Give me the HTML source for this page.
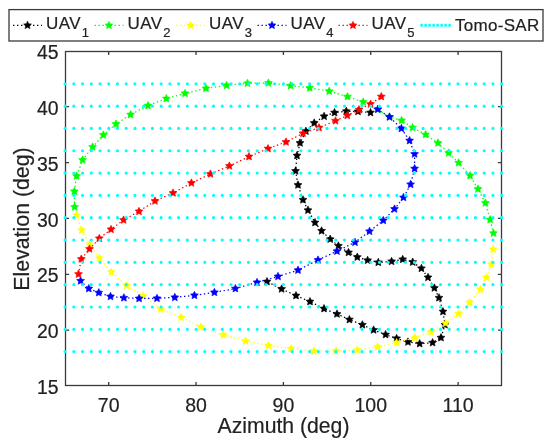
<!DOCTYPE html><html><head><meta charset="utf-8"><style>html,body{margin:0;padding:0;background:#fff}svg{display:block}text{font-family:"Liberation Sans",Arial,Helvetica,sans-serif;fill:#222;stroke:#222;stroke-width:0.2px}</style></head><body>
<svg width="550" height="443" viewBox="0 0 550 443">
<rect width="550" height="443" fill="#fff"/>
<rect x="65.5" y="51.5" width="436.0" height="334.0" fill="#fff" stroke="#3a3a3a" stroke-width="1.3"/>
<path d="M108.70,385.5V381.9M108.70,51.5V55.1M196.05,385.5V381.9M196.05,51.5V55.1M283.40,385.5V381.9M283.40,51.5V55.1M370.75,385.5V381.9M370.75,51.5V55.1M458.10,385.5V381.9M458.10,51.5V55.1M65.5,330.20H69.1M501.5,330.20H497.9M65.5,274.32H69.1M501.5,274.32H497.9M65.5,218.45H69.1M501.5,218.45H497.9M65.5,162.57H69.1M501.5,162.57H497.9M65.5,106.70H69.1M501.5,106.70H497.9" stroke="#3a3a3a" stroke-width="1.3" fill="none"/>
<path d="M370.5,112.6L358,111.5L346.3,111.2L334.5,112.6L324.1,116.3L314.2,123L305.9,131.2L300,143L297,155.6L295.6,171L298,185L303,199.8L308,210.2L315,222.6L321.6,230.9L330.2,239.2L338.4,245.9L348.5,252.5L357.3,257.1L367.6,260.3L378.3,262.4L391.6,261.4L402.7,259.4L412.7,262.1L421.4,268.4L428,277.4L434.4,288L439,297.8L443,311.6L445,324.8L441,337.7L432.6,342.7L419.7,343.7L408,342L396.6,338.4L385.6,334.6L373.6,330L362.4,324.8L349.4,319.6L337,314L324,308.6L310,301.6L296,295.6L281.6,289L267,281.6" fill="none" stroke="#000" stroke-width="1.25" stroke-dasharray="1.4 2.6"/>
<path d="M370.50,108.45L371.70,110.95L374.45,111.32L372.43,113.23L372.94,115.96L370.50,114.63L368.06,115.96L368.57,113.23L366.55,111.32L369.30,110.95ZM358.00,107.35L359.20,109.85L361.95,110.22L359.93,112.13L360.44,114.86L358.00,113.53L355.56,114.86L356.07,112.13L354.05,110.22L356.80,109.85ZM346.30,107.05L347.50,109.55L350.25,109.92L348.23,111.83L348.74,114.56L346.30,113.23L343.86,114.56L344.37,111.83L342.35,109.92L345.10,109.55ZM334.50,108.45L335.70,110.95L338.45,111.32L336.43,113.23L336.94,115.96L334.50,114.63L332.06,115.96L332.57,113.23L330.55,111.32L333.30,110.95ZM324.10,112.15L325.30,114.65L328.05,115.02L326.03,116.93L326.54,119.66L324.10,118.33L321.66,119.66L322.17,116.93L320.15,115.02L322.90,114.65ZM314.20,118.85L315.40,121.35L318.15,121.72L316.13,123.63L316.64,126.36L314.20,125.03L311.76,126.36L312.27,123.63L310.25,121.72L313.00,121.35ZM305.90,127.05L307.10,129.55L309.85,129.92L307.83,131.83L308.34,134.56L305.90,133.23L303.46,134.56L303.97,131.83L301.95,129.92L304.70,129.55ZM300.00,138.85L301.20,141.35L303.95,141.72L301.93,143.63L302.44,146.36L300.00,145.03L297.56,146.36L298.07,143.63L296.05,141.72L298.80,141.35ZM297.00,151.45L298.20,153.95L300.95,154.32L298.93,156.23L299.44,158.96L297.00,157.63L294.56,158.96L295.07,156.23L293.05,154.32L295.80,153.95ZM295.60,166.85L296.80,169.35L299.55,169.72L297.53,171.63L298.04,174.36L295.60,173.03L293.16,174.36L293.67,171.63L291.65,169.72L294.40,169.35ZM298.00,180.85L299.20,183.35L301.95,183.72L299.93,185.63L300.44,188.36L298.00,187.03L295.56,188.36L296.07,185.63L294.05,183.72L296.80,183.35ZM303.00,195.65L304.20,198.15L306.95,198.52L304.93,200.43L305.44,203.16L303.00,201.83L300.56,203.16L301.07,200.43L299.05,198.52L301.80,198.15ZM308.00,206.05L309.20,208.55L311.95,208.92L309.93,210.83L310.44,213.56L308.00,212.23L305.56,213.56L306.07,210.83L304.05,208.92L306.80,208.55ZM315.00,218.45L316.20,220.95L318.95,221.32L316.93,223.23L317.44,225.96L315.00,224.63L312.56,225.96L313.07,223.23L311.05,221.32L313.80,220.95ZM321.60,226.75L322.80,229.25L325.55,229.62L323.53,231.53L324.04,234.26L321.60,232.93L319.16,234.26L319.67,231.53L317.65,229.62L320.40,229.25ZM330.20,235.05L331.40,237.55L334.15,237.92L332.13,239.83L332.64,242.56L330.20,241.23L327.76,242.56L328.27,239.83L326.25,237.92L329.00,237.55ZM338.40,241.75L339.60,244.25L342.35,244.62L340.33,246.53L340.84,249.26L338.40,247.93L335.96,249.26L336.47,246.53L334.45,244.62L337.20,244.25ZM348.50,248.35L349.70,250.85L352.45,251.22L350.43,253.13L350.94,255.86L348.50,254.53L346.06,255.86L346.57,253.13L344.55,251.22L347.30,250.85ZM357.30,252.95L358.50,255.45L361.25,255.82L359.23,257.73L359.74,260.46L357.30,259.13L354.86,260.46L355.37,257.73L353.35,255.82L356.10,255.45ZM367.60,256.15L368.80,258.65L371.55,259.02L369.53,260.93L370.04,263.66L367.60,262.33L365.16,263.66L365.67,260.93L363.65,259.02L366.40,258.65ZM378.30,258.25L379.50,260.75L382.25,261.12L380.23,263.03L380.74,265.76L378.30,264.43L375.86,265.76L376.37,263.03L374.35,261.12L377.10,260.75ZM391.60,257.25L392.80,259.75L395.55,260.12L393.53,262.03L394.04,264.76L391.60,263.43L389.16,264.76L389.67,262.03L387.65,260.12L390.40,259.75ZM402.70,255.25L403.90,257.75L406.65,258.12L404.63,260.03L405.14,262.76L402.70,261.43L400.26,262.76L400.77,260.03L398.75,258.12L401.50,257.75ZM412.70,257.95L413.90,260.45L416.65,260.82L414.63,262.73L415.14,265.46L412.70,264.13L410.26,265.46L410.77,262.73L408.75,260.82L411.50,260.45ZM421.40,264.25L422.60,266.75L425.35,267.12L423.33,269.03L423.84,271.76L421.40,270.43L418.96,271.76L419.47,269.03L417.45,267.12L420.20,266.75ZM428.00,273.25L429.20,275.75L431.95,276.12L429.93,278.03L430.44,280.76L428.00,279.43L425.56,280.76L426.07,278.03L424.05,276.12L426.80,275.75ZM434.40,283.85L435.60,286.35L438.35,286.72L436.33,288.63L436.84,291.36L434.40,290.03L431.96,291.36L432.47,288.63L430.45,286.72L433.20,286.35ZM439.00,293.65L440.20,296.15L442.95,296.52L440.93,298.43L441.44,301.16L439.00,299.83L436.56,301.16L437.07,298.43L435.05,296.52L437.80,296.15ZM443.00,307.45L444.20,309.95L446.95,310.32L444.93,312.23L445.44,314.96L443.00,313.63L440.56,314.96L441.07,312.23L439.05,310.32L441.80,309.95ZM445.00,320.65L446.20,323.15L448.95,323.52L446.93,325.43L447.44,328.16L445.00,326.83L442.56,328.16L443.07,325.43L441.05,323.52L443.80,323.15ZM441.00,333.55L442.20,336.05L444.95,336.42L442.93,338.33L443.44,341.06L441.00,339.73L438.56,341.06L439.07,338.33L437.05,336.42L439.80,336.05ZM432.60,338.55L433.80,341.05L436.55,341.42L434.53,343.33L435.04,346.06L432.60,344.73L430.16,346.06L430.67,343.33L428.65,341.42L431.40,341.05ZM419.70,339.55L420.90,342.05L423.65,342.42L421.63,344.33L422.14,347.06L419.70,345.73L417.26,347.06L417.77,344.33L415.75,342.42L418.50,342.05ZM408.00,337.85L409.20,340.35L411.95,340.72L409.93,342.63L410.44,345.36L408.00,344.03L405.56,345.36L406.07,342.63L404.05,340.72L406.80,340.35ZM396.60,334.25L397.80,336.75L400.55,337.12L398.53,339.03L399.04,341.76L396.60,340.43L394.16,341.76L394.67,339.03L392.65,337.12L395.40,336.75ZM385.60,330.45L386.80,332.95L389.55,333.32L387.53,335.23L388.04,337.96L385.60,336.63L383.16,337.96L383.67,335.23L381.65,333.32L384.40,332.95ZM373.60,325.85L374.80,328.35L377.55,328.72L375.53,330.63L376.04,333.36L373.60,332.03L371.16,333.36L371.67,330.63L369.65,328.72L372.40,328.35ZM362.40,320.65L363.60,323.15L366.35,323.52L364.33,325.43L364.84,328.16L362.40,326.83L359.96,328.16L360.47,325.43L358.45,323.52L361.20,323.15ZM349.40,315.45L350.60,317.95L353.35,318.32L351.33,320.23L351.84,322.96L349.40,321.63L346.96,322.96L347.47,320.23L345.45,318.32L348.20,317.95ZM337.00,309.85L338.20,312.35L340.95,312.72L338.93,314.63L339.44,317.36L337.00,316.03L334.56,317.36L335.07,314.63L333.05,312.72L335.80,312.35ZM324.00,304.45L325.20,306.95L327.95,307.32L325.93,309.23L326.44,311.96L324.00,310.63L321.56,311.96L322.07,309.23L320.05,307.32L322.80,306.95ZM310.00,297.45L311.20,299.95L313.95,300.32L311.93,302.23L312.44,304.96L310.00,303.63L307.56,304.96L308.07,302.23L306.05,300.32L308.80,299.95ZM296.00,291.45L297.20,293.95L299.95,294.32L297.93,296.23L298.44,298.96L296.00,297.63L293.56,298.96L294.07,296.23L292.05,294.32L294.80,293.95ZM281.60,284.85L282.80,287.35L285.55,287.72L283.53,289.63L284.04,292.36L281.60,291.03L279.16,292.36L279.67,289.63L277.65,287.72L280.40,287.35ZM267.00,277.45L268.20,279.95L270.95,280.32L268.93,282.23L269.44,284.96L267.00,283.63L264.56,284.96L265.07,282.23L263.05,280.32L265.80,279.95Z" fill="#000" stroke="#000" stroke-width="0.6" stroke-linejoin="round"/>

<path d="M74.6,207L74.3,191.4L76.6,176L82.6,160L92.6,147L103.3,135L116,124L130.6,114.6L148,105.6L166.3,98.6L185,93.4L206,88.4L226.6,85.4L247.5,83.3L268.4,83L290.6,85.7L309.7,87.9L329.2,91.2L347.5,96.6L363.2,102L377.8,109.3L389.5,117L401.6,120.5L412.6,127.6L425.6,134.6L438,143L448.6,153L458.6,162.8L470,175.6L478,189L485.4,203L490.1,219.7L493.5,233.2" fill="none" stroke="#0f0" stroke-width="1.25" stroke-dasharray="1.4 2.6"/>
<path d="M74.60,202.85L75.80,205.35L78.55,205.72L76.53,207.63L77.04,210.36L74.60,209.03L72.16,210.36L72.67,207.63L70.65,205.72L73.40,205.35ZM74.30,187.25L75.50,189.75L78.25,190.12L76.23,192.03L76.74,194.76L74.30,193.43L71.86,194.76L72.37,192.03L70.35,190.12L73.10,189.75ZM76.60,171.85L77.80,174.35L80.55,174.72L78.53,176.63L79.04,179.36L76.60,178.03L74.16,179.36L74.67,176.63L72.65,174.72L75.40,174.35ZM82.60,155.85L83.80,158.35L86.55,158.72L84.53,160.63L85.04,163.36L82.60,162.03L80.16,163.36L80.67,160.63L78.65,158.72L81.40,158.35ZM92.60,142.85L93.80,145.35L96.55,145.72L94.53,147.63L95.04,150.36L92.60,149.03L90.16,150.36L90.67,147.63L88.65,145.72L91.40,145.35ZM103.30,130.85L104.50,133.35L107.25,133.72L105.23,135.63L105.74,138.36L103.30,137.03L100.86,138.36L101.37,135.63L99.35,133.72L102.10,133.35ZM116.00,119.85L117.20,122.35L119.95,122.72L117.93,124.63L118.44,127.36L116.00,126.03L113.56,127.36L114.07,124.63L112.05,122.72L114.80,122.35ZM130.60,110.45L131.80,112.95L134.55,113.32L132.53,115.23L133.04,117.96L130.60,116.63L128.16,117.96L128.67,115.23L126.65,113.32L129.40,112.95ZM148.00,101.45L149.20,103.95L151.95,104.32L149.93,106.23L150.44,108.96L148.00,107.63L145.56,108.96L146.07,106.23L144.05,104.32L146.80,103.95ZM166.30,94.45L167.50,96.95L170.25,97.32L168.23,99.23L168.74,101.96L166.30,100.63L163.86,101.96L164.37,99.23L162.35,97.32L165.10,96.95ZM185.00,89.25L186.20,91.75L188.95,92.12L186.93,94.03L187.44,96.76L185.00,95.43L182.56,96.76L183.07,94.03L181.05,92.12L183.80,91.75ZM206.00,84.25L207.20,86.75L209.95,87.12L207.93,89.03L208.44,91.76L206.00,90.43L203.56,91.76L204.07,89.03L202.05,87.12L204.80,86.75ZM226.60,81.25L227.80,83.75L230.55,84.12L228.53,86.03L229.04,88.76L226.60,87.43L224.16,88.76L224.67,86.03L222.65,84.12L225.40,83.75ZM247.50,79.15L248.70,81.65L251.45,82.02L249.43,83.93L249.94,86.66L247.50,85.33L245.06,86.66L245.57,83.93L243.55,82.02L246.30,81.65ZM268.40,78.85L269.60,81.35L272.35,81.72L270.33,83.63L270.84,86.36L268.40,85.03L265.96,86.36L266.47,83.63L264.45,81.72L267.20,81.35ZM290.60,81.55L291.80,84.05L294.55,84.42L292.53,86.33L293.04,89.06L290.60,87.73L288.16,89.06L288.67,86.33L286.65,84.42L289.40,84.05ZM309.70,83.75L310.90,86.25L313.65,86.62L311.63,88.53L312.14,91.26L309.70,89.93L307.26,91.26L307.77,88.53L305.75,86.62L308.50,86.25ZM329.20,87.05L330.40,89.55L333.15,89.92L331.13,91.83L331.64,94.56L329.20,93.23L326.76,94.56L327.27,91.83L325.25,89.92L328.00,89.55ZM347.50,92.45L348.70,94.95L351.45,95.32L349.43,97.23L349.94,99.96L347.50,98.63L345.06,99.96L345.57,97.23L343.55,95.32L346.30,94.95ZM363.20,97.85L364.40,100.35L367.15,100.72L365.13,102.63L365.64,105.36L363.20,104.03L360.76,105.36L361.27,102.63L359.25,100.72L362.00,100.35ZM377.80,105.15L379.00,107.65L381.75,108.02L379.73,109.93L380.24,112.66L377.80,111.33L375.36,112.66L375.87,109.93L373.85,108.02L376.60,107.65ZM389.50,112.85L390.70,115.35L393.45,115.72L391.43,117.63L391.94,120.36L389.50,119.03L387.06,120.36L387.57,117.63L385.55,115.72L388.30,115.35ZM401.60,116.35L402.80,118.85L405.55,119.22L403.53,121.13L404.04,123.86L401.60,122.53L399.16,123.86L399.67,121.13L397.65,119.22L400.40,118.85ZM412.60,123.45L413.80,125.95L416.55,126.32L414.53,128.23L415.04,130.96L412.60,129.63L410.16,130.96L410.67,128.23L408.65,126.32L411.40,125.95ZM425.60,130.45L426.80,132.95L429.55,133.32L427.53,135.23L428.04,137.96L425.60,136.63L423.16,137.96L423.67,135.23L421.65,133.32L424.40,132.95ZM438.00,138.85L439.20,141.35L441.95,141.72L439.93,143.63L440.44,146.36L438.00,145.03L435.56,146.36L436.07,143.63L434.05,141.72L436.80,141.35ZM448.60,148.85L449.80,151.35L452.55,151.72L450.53,153.63L451.04,156.36L448.60,155.03L446.16,156.36L446.67,153.63L444.65,151.72L447.40,151.35ZM458.60,158.65L459.80,161.15L462.55,161.52L460.53,163.43L461.04,166.16L458.60,164.83L456.16,166.16L456.67,163.43L454.65,161.52L457.40,161.15ZM470.00,171.45L471.20,173.95L473.95,174.32L471.93,176.23L472.44,178.96L470.00,177.63L467.56,178.96L468.07,176.23L466.05,174.32L468.80,173.95ZM478.00,184.85L479.20,187.35L481.95,187.72L479.93,189.63L480.44,192.36L478.00,191.03L475.56,192.36L476.07,189.63L474.05,187.72L476.80,187.35ZM485.40,198.85L486.60,201.35L489.35,201.72L487.33,203.63L487.84,206.36L485.40,205.03L482.96,206.36L483.47,203.63L481.45,201.72L484.20,201.35ZM490.10,215.55L491.30,218.05L494.05,218.42L492.03,220.33L492.54,223.06L490.10,221.73L487.66,223.06L488.17,220.33L486.15,218.42L488.90,218.05ZM493.50,229.05L494.70,231.55L497.45,231.92L495.43,233.83L495.94,236.56L493.50,235.23L491.06,236.56L491.57,233.83L489.55,231.92L492.30,231.55Z" fill="#0f0" stroke="#0f0" stroke-width="0.6" stroke-linejoin="round"/>

<path d="M76.6,215.1L81.7,230.2L89.7,244.5L99.4,258.2L111.5,272.2L126.6,285.6L143.3,296L160.8,309L181.2,317.5L201,327L223.4,335L245.6,341L268.5,345.6L291,348.6L314,351L336,351L357.4,350L377.6,347L396.6,342.6L414.9,337.8L431,332L445.6,323.3L458.6,313.8L469.6,302.5L480.4,289.4L486.4,277.4L491.4,264.4L493.2,249.4" fill="none" stroke="#ff0" stroke-width="1.25" stroke-dasharray="1.4 2.6"/>
<path d="M76.60,210.95L77.80,213.45L80.55,213.82L78.53,215.73L79.04,218.46L76.60,217.13L74.16,218.46L74.67,215.73L72.65,213.82L75.40,213.45ZM81.70,226.05L82.90,228.55L85.65,228.92L83.63,230.83L84.14,233.56L81.70,232.23L79.26,233.56L79.77,230.83L77.75,228.92L80.50,228.55ZM89.70,240.35L90.90,242.85L93.65,243.22L91.63,245.13L92.14,247.86L89.70,246.53L87.26,247.86L87.77,245.13L85.75,243.22L88.50,242.85ZM99.40,254.05L100.60,256.55L103.35,256.92L101.33,258.83L101.84,261.56L99.40,260.23L96.96,261.56L97.47,258.83L95.45,256.92L98.20,256.55ZM111.50,268.05L112.70,270.55L115.45,270.92L113.43,272.83L113.94,275.56L111.50,274.23L109.06,275.56L109.57,272.83L107.55,270.92L110.30,270.55ZM126.60,281.45L127.80,283.95L130.55,284.32L128.53,286.23L129.04,288.96L126.60,287.63L124.16,288.96L124.67,286.23L122.65,284.32L125.40,283.95ZM143.30,291.85L144.50,294.35L147.25,294.72L145.23,296.63L145.74,299.36L143.30,298.03L140.86,299.36L141.37,296.63L139.35,294.72L142.10,294.35ZM160.80,304.85L162.00,307.35L164.75,307.72L162.73,309.63L163.24,312.36L160.80,311.03L158.36,312.36L158.87,309.63L156.85,307.72L159.60,307.35ZM181.20,313.35L182.40,315.85L185.15,316.22L183.13,318.13L183.64,320.86L181.20,319.53L178.76,320.86L179.27,318.13L177.25,316.22L180.00,315.85ZM201.00,322.85L202.20,325.35L204.95,325.72L202.93,327.63L203.44,330.36L201.00,329.03L198.56,330.36L199.07,327.63L197.05,325.72L199.80,325.35ZM223.40,330.85L224.60,333.35L227.35,333.72L225.33,335.63L225.84,338.36L223.40,337.03L220.96,338.36L221.47,335.63L219.45,333.72L222.20,333.35ZM245.60,336.85L246.80,339.35L249.55,339.72L247.53,341.63L248.04,344.36L245.60,343.03L243.16,344.36L243.67,341.63L241.65,339.72L244.40,339.35ZM268.50,341.45L269.70,343.95L272.45,344.32L270.43,346.23L270.94,348.96L268.50,347.63L266.06,348.96L266.57,346.23L264.55,344.32L267.30,343.95ZM291.00,344.45L292.20,346.95L294.95,347.32L292.93,349.23L293.44,351.96L291.00,350.63L288.56,351.96L289.07,349.23L287.05,347.32L289.80,346.95ZM314.00,346.85L315.20,349.35L317.95,349.72L315.93,351.63L316.44,354.36L314.00,353.03L311.56,354.36L312.07,351.63L310.05,349.72L312.80,349.35ZM336.00,346.85L337.20,349.35L339.95,349.72L337.93,351.63L338.44,354.36L336.00,353.03L333.56,354.36L334.07,351.63L332.05,349.72L334.80,349.35ZM357.40,345.85L358.60,348.35L361.35,348.72L359.33,350.63L359.84,353.36L357.40,352.03L354.96,353.36L355.47,350.63L353.45,348.72L356.20,348.35ZM377.60,342.85L378.80,345.35L381.55,345.72L379.53,347.63L380.04,350.36L377.60,349.03L375.16,350.36L375.67,347.63L373.65,345.72L376.40,345.35ZM396.60,338.45L397.80,340.95L400.55,341.32L398.53,343.23L399.04,345.96L396.60,344.63L394.16,345.96L394.67,343.23L392.65,341.32L395.40,340.95ZM414.90,333.65L416.10,336.15L418.85,336.52L416.83,338.43L417.34,341.16L414.90,339.83L412.46,341.16L412.97,338.43L410.95,336.52L413.70,336.15ZM431.00,327.85L432.20,330.35L434.95,330.72L432.93,332.63L433.44,335.36L431.00,334.03L428.56,335.36L429.07,332.63L427.05,330.72L429.80,330.35ZM445.60,319.15L446.80,321.65L449.55,322.02L447.53,323.93L448.04,326.66L445.60,325.33L443.16,326.66L443.67,323.93L441.65,322.02L444.40,321.65ZM458.60,309.65L459.80,312.15L462.55,312.52L460.53,314.43L461.04,317.16L458.60,315.83L456.16,317.16L456.67,314.43L454.65,312.52L457.40,312.15ZM469.60,298.35L470.80,300.85L473.55,301.22L471.53,303.13L472.04,305.86L469.60,304.53L467.16,305.86L467.67,303.13L465.65,301.22L468.40,300.85ZM480.40,285.25L481.60,287.75L484.35,288.12L482.33,290.03L482.84,292.76L480.40,291.43L477.96,292.76L478.47,290.03L476.45,288.12L479.20,287.75ZM486.40,273.25L487.60,275.75L490.35,276.12L488.33,278.03L488.84,280.76L486.40,279.43L483.96,280.76L484.47,278.03L482.45,276.12L485.20,275.75ZM491.40,260.25L492.60,262.75L495.35,263.12L493.33,265.03L493.84,267.76L491.40,266.43L488.96,267.76L489.47,265.03L487.45,263.12L490.20,262.75ZM493.20,245.25L494.40,247.75L497.15,248.12L495.13,250.03L495.64,252.76L493.20,251.43L490.76,252.76L491.27,250.03L489.25,248.12L492.00,247.75Z" fill="#ff0" stroke="#ff0" stroke-width="0.6" stroke-linejoin="round"/>

<path d="M80.6,280.9L88.8,288.6L98.8,292.7L110.5,296.5L123.9,297.8L139.1,298.5L157,298.3L174.8,297.4L194.4,295.4L214.4,292.4L235.4,288.6L257,282.4L278,276.5L298,270.2L318,260L337,251.2L355,242.3L369.5,231.3L383.3,220.5L394.5,209L403.5,197.5L410.6,184.4L414.6,168.6L414.6,154L409.6,140.6L401.4,128.5L389.5,117L377.8,109.3" fill="none" stroke="#00f" stroke-width="1.25" stroke-dasharray="1.4 2.6"/>
<path d="M80.60,276.75L81.80,279.25L84.55,279.62L82.53,281.53L83.04,284.26L80.60,282.93L78.16,284.26L78.67,281.53L76.65,279.62L79.40,279.25ZM88.80,284.45L90.00,286.95L92.75,287.32L90.73,289.23L91.24,291.96L88.80,290.63L86.36,291.96L86.87,289.23L84.85,287.32L87.60,286.95ZM98.80,288.55L100.00,291.05L102.75,291.42L100.73,293.33L101.24,296.06L98.80,294.73L96.36,296.06L96.87,293.33L94.85,291.42L97.60,291.05ZM110.50,292.35L111.70,294.85L114.45,295.22L112.43,297.13L112.94,299.86L110.50,298.53L108.06,299.86L108.57,297.13L106.55,295.22L109.30,294.85ZM123.90,293.65L125.10,296.15L127.85,296.52L125.83,298.43L126.34,301.16L123.90,299.83L121.46,301.16L121.97,298.43L119.95,296.52L122.70,296.15ZM139.10,294.35L140.30,296.85L143.05,297.22L141.03,299.13L141.54,301.86L139.10,300.53L136.66,301.86L137.17,299.13L135.15,297.22L137.90,296.85ZM157.00,294.15L158.20,296.65L160.95,297.02L158.93,298.93L159.44,301.66L157.00,300.33L154.56,301.66L155.07,298.93L153.05,297.02L155.80,296.65ZM174.80,293.25L176.00,295.75L178.75,296.12L176.73,298.03L177.24,300.76L174.80,299.43L172.36,300.76L172.87,298.03L170.85,296.12L173.60,295.75ZM194.40,291.25L195.60,293.75L198.35,294.12L196.33,296.03L196.84,298.76L194.40,297.43L191.96,298.76L192.47,296.03L190.45,294.12L193.20,293.75ZM214.40,288.25L215.60,290.75L218.35,291.12L216.33,293.03L216.84,295.76L214.40,294.43L211.96,295.76L212.47,293.03L210.45,291.12L213.20,290.75ZM235.40,284.45L236.60,286.95L239.35,287.32L237.33,289.23L237.84,291.96L235.40,290.63L232.96,291.96L233.47,289.23L231.45,287.32L234.20,286.95ZM257.00,278.25L258.20,280.75L260.95,281.12L258.93,283.03L259.44,285.76L257.00,284.43L254.56,285.76L255.07,283.03L253.05,281.12L255.80,280.75ZM278.00,272.35L279.20,274.85L281.95,275.22L279.93,277.13L280.44,279.86L278.00,278.53L275.56,279.86L276.07,277.13L274.05,275.22L276.80,274.85ZM298.00,266.05L299.20,268.55L301.95,268.92L299.93,270.83L300.44,273.56L298.00,272.23L295.56,273.56L296.07,270.83L294.05,268.92L296.80,268.55ZM318.00,255.85L319.20,258.35L321.95,258.72L319.93,260.63L320.44,263.36L318.00,262.03L315.56,263.36L316.07,260.63L314.05,258.72L316.80,258.35ZM337.00,247.05L338.20,249.55L340.95,249.92L338.93,251.83L339.44,254.56L337.00,253.23L334.56,254.56L335.07,251.83L333.05,249.92L335.80,249.55ZM355.00,238.15L356.20,240.65L358.95,241.02L356.93,242.93L357.44,245.66L355.00,244.33L352.56,245.66L353.07,242.93L351.05,241.02L353.80,240.65ZM369.50,227.15L370.70,229.65L373.45,230.02L371.43,231.93L371.94,234.66L369.50,233.33L367.06,234.66L367.57,231.93L365.55,230.02L368.30,229.65ZM383.30,216.35L384.50,218.85L387.25,219.22L385.23,221.13L385.74,223.86L383.30,222.53L380.86,223.86L381.37,221.13L379.35,219.22L382.10,218.85ZM394.50,204.85L395.70,207.35L398.45,207.72L396.43,209.63L396.94,212.36L394.50,211.03L392.06,212.36L392.57,209.63L390.55,207.72L393.30,207.35ZM403.50,193.35L404.70,195.85L407.45,196.22L405.43,198.13L405.94,200.86L403.50,199.53L401.06,200.86L401.57,198.13L399.55,196.22L402.30,195.85ZM410.60,180.25L411.80,182.75L414.55,183.12L412.53,185.03L413.04,187.76L410.60,186.43L408.16,187.76L408.67,185.03L406.65,183.12L409.40,182.75ZM414.60,164.45L415.80,166.95L418.55,167.32L416.53,169.23L417.04,171.96L414.60,170.63L412.16,171.96L412.67,169.23L410.65,167.32L413.40,166.95ZM414.60,149.85L415.80,152.35L418.55,152.72L416.53,154.63L417.04,157.36L414.60,156.03L412.16,157.36L412.67,154.63L410.65,152.72L413.40,152.35ZM409.60,136.45L410.80,138.95L413.55,139.32L411.53,141.23L412.04,143.96L409.60,142.63L407.16,143.96L407.67,141.23L405.65,139.32L408.40,138.95ZM401.40,124.35L402.60,126.85L405.35,127.22L403.33,129.13L403.84,131.86L401.40,130.53L398.96,131.86L399.47,129.13L397.45,127.22L400.20,126.85ZM389.50,112.85L390.70,115.35L393.45,115.72L391.43,117.63L391.94,120.36L389.50,119.03L387.06,120.36L387.57,117.63L385.55,115.72L388.30,115.35ZM377.80,105.15L379.00,107.65L381.75,108.02L379.73,109.93L380.24,112.66L377.80,111.33L375.36,112.66L375.87,109.93L373.85,108.02L376.60,107.65Z" fill="#00f" stroke="#00f" stroke-width="0.6" stroke-linejoin="round"/>

<path d="M78.5,274.1L81.3,259L89.5,249L99.3,238.4L111,229.4L123.6,220L139,211.4L155,201L173,193L191.4,183L210.4,174L229.4,166L249,156.6L268,148.6L286,142L303,133.4L319,127.7L335.5,120.8L347.3,115.5L359,109.7L370.5,104.1L381.3,96.6" fill="none" stroke="#f00" stroke-width="1.25" stroke-dasharray="1.4 2.6"/>
<path d="M78.50,269.95L79.70,272.45L82.45,272.82L80.43,274.73L80.94,277.46L78.50,276.13L76.06,277.46L76.57,274.73L74.55,272.82L77.30,272.45ZM81.30,254.85L82.50,257.35L85.25,257.72L83.23,259.63L83.74,262.36L81.30,261.03L78.86,262.36L79.37,259.63L77.35,257.72L80.10,257.35ZM89.50,244.85L90.70,247.35L93.45,247.72L91.43,249.63L91.94,252.36L89.50,251.03L87.06,252.36L87.57,249.63L85.55,247.72L88.30,247.35ZM99.30,234.25L100.50,236.75L103.25,237.12L101.23,239.03L101.74,241.76L99.30,240.43L96.86,241.76L97.37,239.03L95.35,237.12L98.10,236.75ZM111.00,225.25L112.20,227.75L114.95,228.12L112.93,230.03L113.44,232.76L111.00,231.43L108.56,232.76L109.07,230.03L107.05,228.12L109.80,227.75ZM123.60,215.85L124.80,218.35L127.55,218.72L125.53,220.63L126.04,223.36L123.60,222.03L121.16,223.36L121.67,220.63L119.65,218.72L122.40,218.35ZM139.00,207.25L140.20,209.75L142.95,210.12L140.93,212.03L141.44,214.76L139.00,213.43L136.56,214.76L137.07,212.03L135.05,210.12L137.80,209.75ZM155.00,196.85L156.20,199.35L158.95,199.72L156.93,201.63L157.44,204.36L155.00,203.03L152.56,204.36L153.07,201.63L151.05,199.72L153.80,199.35ZM173.00,188.85L174.20,191.35L176.95,191.72L174.93,193.63L175.44,196.36L173.00,195.03L170.56,196.36L171.07,193.63L169.05,191.72L171.80,191.35ZM191.40,178.85L192.60,181.35L195.35,181.72L193.33,183.63L193.84,186.36L191.40,185.03L188.96,186.36L189.47,183.63L187.45,181.72L190.20,181.35ZM210.40,169.85L211.60,172.35L214.35,172.72L212.33,174.63L212.84,177.36L210.40,176.03L207.96,177.36L208.47,174.63L206.45,172.72L209.20,172.35ZM229.40,161.85L230.60,164.35L233.35,164.72L231.33,166.63L231.84,169.36L229.40,168.03L226.96,169.36L227.47,166.63L225.45,164.72L228.20,164.35ZM249.00,152.45L250.20,154.95L252.95,155.32L250.93,157.23L251.44,159.96L249.00,158.63L246.56,159.96L247.07,157.23L245.05,155.32L247.80,154.95ZM268.00,144.45L269.20,146.95L271.95,147.32L269.93,149.23L270.44,151.96L268.00,150.63L265.56,151.96L266.07,149.23L264.05,147.32L266.80,146.95ZM286.00,137.85L287.20,140.35L289.95,140.72L287.93,142.63L288.44,145.36L286.00,144.03L283.56,145.36L284.07,142.63L282.05,140.72L284.80,140.35ZM303.00,129.25L304.20,131.75L306.95,132.12L304.93,134.03L305.44,136.76L303.00,135.43L300.56,136.76L301.07,134.03L299.05,132.12L301.80,131.75ZM319.00,123.55L320.20,126.05L322.95,126.42L320.93,128.33L321.44,131.06L319.00,129.73L316.56,131.06L317.07,128.33L315.05,126.42L317.80,126.05ZM335.50,116.65L336.70,119.15L339.45,119.52L337.43,121.43L337.94,124.16L335.50,122.83L333.06,124.16L333.57,121.43L331.55,119.52L334.30,119.15ZM347.30,111.35L348.50,113.85L351.25,114.22L349.23,116.13L349.74,118.86L347.30,117.53L344.86,118.86L345.37,116.13L343.35,114.22L346.10,113.85ZM359.00,105.55L360.20,108.05L362.95,108.42L360.93,110.33L361.44,113.06L359.00,111.73L356.56,113.06L357.07,110.33L355.05,108.42L357.80,108.05ZM370.50,99.95L371.70,102.45L374.45,102.82L372.43,104.73L372.94,107.46L370.50,106.13L368.06,107.46L368.57,104.73L366.55,102.82L369.30,102.45ZM381.30,92.45L382.50,94.95L385.25,95.32L383.23,97.23L383.74,99.96L381.30,98.63L378.86,99.96L379.37,97.23L377.35,95.32L380.10,94.95Z" fill="#f00" stroke="#f00" stroke-width="0.6" stroke-linejoin="round"/>

<path d="M65.1,351.62H501.8M65.1,329.30H501.8M65.1,306.98H501.8M65.1,284.67H501.8M65.1,262.35H501.8M65.1,240.04H501.8M65.1,217.72H501.8M65.1,195.40H501.8M65.1,173.09H501.8M65.1,150.77H501.8M65.1,128.46H501.8M65.1,106.14H501.8M65.1,83.82H501.8" stroke="#0ff" stroke-width="3.2" stroke-linecap="round" stroke-dasharray="0 8.7314" fill="none"/>
<text x="108.70" y="411.5" font-size="19.5" text-anchor="middle">70</text>
<text x="196.05" y="411.5" font-size="19.5" text-anchor="middle">80</text>
<text x="283.40" y="411.5" font-size="19.5" text-anchor="middle">90</text>
<text x="370.75" y="411.5" font-size="19.5" text-anchor="middle">100</text>
<text x="458.10" y="411.5" font-size="19.5" text-anchor="middle">110</text>
<text x="58.5" y="393.75" font-size="19.4" text-anchor="end">15</text>
<text x="58.5" y="338.00" font-size="19.4" text-anchor="end">20</text>
<text x="58.5" y="282.25" font-size="19.4" text-anchor="end">25</text>
<text x="58.5" y="226.50" font-size="19.4" text-anchor="end">30</text>
<text x="58.5" y="170.75" font-size="19.4" text-anchor="end">35</text>
<text x="58.5" y="115.00" font-size="19.4" text-anchor="end">40</text>
<text x="58.5" y="59.25" font-size="19.4" text-anchor="end">45</text>
<text x="283.5" y="432.7" font-size="21.2" text-anchor="middle">Azimuth (deg)</text>
<text transform="translate(28.7,219) rotate(-90)" x="0" y="0" font-size="21.3" text-anchor="middle">Elevation (deg)</text>
<rect x="9" y="9.6" width="534" height="31.4" fill="#fff" stroke="#3a3a3a" stroke-width="1.3"/>
<path d="M13,25.3H42" stroke="#000" stroke-width="1.25" stroke-dasharray="1.4 2.6" fill="none"/>
<path d="M27.50,21.15L28.70,23.65L31.45,24.02L29.43,25.93L29.94,28.66L27.50,27.33L25.06,28.66L25.57,25.93L23.55,24.02L26.30,23.65Z" fill="#000" stroke="#000" stroke-width="0.5"/>
<text x="46" y="29.3" font-size="17" letter-spacing="0.5">UAV<tspan font-size="13" letter-spacing="0" dx="0.5" dy="7.3">1</tspan></text>
<path d="M94.5,25.3H123.5" stroke="#0f0" stroke-width="1.25" stroke-dasharray="1.4 2.6" fill="none"/>
<path d="M109.00,21.15L110.20,23.65L112.95,24.02L110.93,25.93L111.44,28.66L109.00,27.33L106.56,28.66L107.07,25.93L105.05,24.02L107.80,23.65Z" fill="#0f0" stroke="#0f0" stroke-width="0.5"/>
<text x="127.5" y="29.3" font-size="17" letter-spacing="0.5">UAV<tspan font-size="13" letter-spacing="0" dx="0.5" dy="7.3">2</tspan></text>
<path d="M176,25.3H205" stroke="#ff0" stroke-width="1.25" stroke-dasharray="1.4 2.6" fill="none"/>
<path d="M190.50,21.15L191.70,23.65L194.45,24.02L192.43,25.93L192.94,28.66L190.50,27.33L188.06,28.66L188.57,25.93L186.55,24.02L189.30,23.65Z" fill="#ff0" stroke="#ff0" stroke-width="0.5"/>
<text x="209" y="29.3" font-size="17" letter-spacing="0.5">UAV<tspan font-size="13" letter-spacing="0" dx="0.5" dy="7.3">3</tspan></text>
<path d="M257.5,25.3H286.5" stroke="#00f" stroke-width="1.25" stroke-dasharray="1.4 2.6" fill="none"/>
<path d="M272.00,21.15L273.20,23.65L275.95,24.02L273.93,25.93L274.44,28.66L272.00,27.33L269.56,28.66L270.07,25.93L268.05,24.02L270.80,23.65Z" fill="#00f" stroke="#00f" stroke-width="0.5"/>
<text x="290.5" y="29.3" font-size="17" letter-spacing="0.5">UAV<tspan font-size="13" letter-spacing="0" dx="0.5" dy="7.3">4</tspan></text>
<path d="M338.5,25.3H367.5" stroke="#f00" stroke-width="1.25" stroke-dasharray="1.4 2.6" fill="none"/>
<path d="M353.00,21.15L354.20,23.65L356.95,24.02L354.93,25.93L355.44,28.66L353.00,27.33L350.56,28.66L351.07,25.93L349.05,24.02L351.80,23.65Z" fill="#f00" stroke="#f00" stroke-width="0.5"/>
<text x="371.5" y="29.3" font-size="17" letter-spacing="0.5">UAV<tspan font-size="13" letter-spacing="0" dx="0.5" dy="7.3">5</tspan></text>
<path d="M420.4,25.3H450.9" stroke="#0ff" stroke-width="3" stroke-dasharray="2.4 1.6" fill="none"/>
<text x="455" y="31.4" font-size="17" letter-spacing="0.3">Tomo-SAR</text>
</svg></body></html>
